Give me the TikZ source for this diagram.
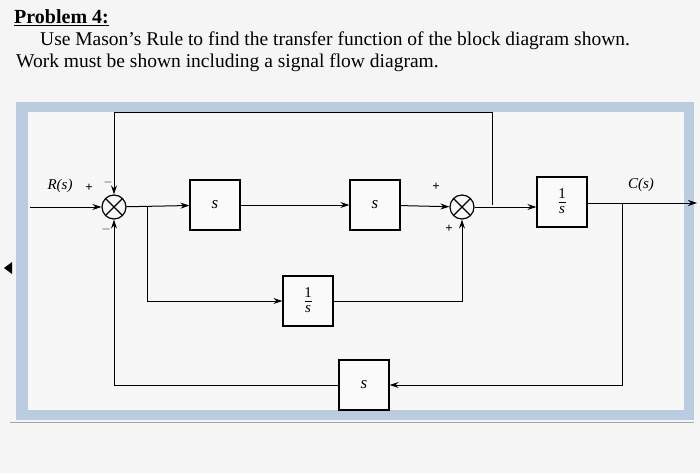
\documentclass[tikz,border=0pt]{standalone}
\usepackage{fontspec}
\setmainfont{Liberation Serif}
\usetikzlibrary{arrows.meta}
\definecolor{frm}{RGB}{188,204,224}
\begin{document}
\begin{tikzpicture}[x=1pt,y=-1pt,
  blk/.style={draw,line width=1.2pt,fill=white!96!gray,minimum width=50pt,minimum height=50pt,inner sep=0pt,font=\itshape\fontsize{17}{17}\selectfont},
  frc/.style={inner sep=0pt,font=\fontsize{15}{15}\selectfont},
  sumj/.style={draw,line width=1.2pt,circle,minimum size=24pt,inner sep=0pt,path picture={\draw[line width=1.1pt] (path picture bounding box.north west)--(path picture bounding box.south east) (path picture bounding box.north east)--(path picture bounding box.south west);}},
  sig/.style={line width=1pt,-{Stealth[length=9pt,width=6pt]}},
  lab/.style={font=\itshape\fontsize{15}{15}\selectfont},
  sg/.style={font=\fontsize{13}{13}\selectfont\bfseries,inner sep=0pt}]
\useasboundingbox (0,0) rectangle (700,473);
\fill[gray!8] (0,0) rectangle (700,473);
\node[anchor=base west,inner sep=0pt,font=\bfseries\fontsize{20}{20}\selectfont] (title) at (14,24) {\underline{Problem 4:}};
\node[anchor=base west,inner sep=0pt,font=\fontsize{19.5}{19.5}\selectfont] (l1) at (40,46) {Use Mason's Rule to find the transfer function of the block diagram shown.};
\node[anchor=base west,inner sep=0pt,font=\fontsize{19.5}{19.5}\selectfont] (l2) at (16,68) {Work must be shown including a signal flow diagram.};
\fill[black] (4,268) -- (12,262) -- (12,274) -- cycle;
\fill[frm] (16,102) rectangle (694,420);
\fill[gray!6] (28,112) rectangle (684,410);
\draw[gray!70,line width=1pt] (10,422) -- (694,422);
\node[sumj] (s1) at (114,207) {};
\node[sumj] (s2) at (462,207) {};
\node[blk] (b1) at (215,205) {s};
\node[blk] (b2) at (375,205) {s};
\node[blk] (b3) at (562,202) {};
\node[blk] (b4) at (308,301) {};
\node[blk] (b5) at (364,385) {s};
\foreach \b in {b3,b4}{
  \node[frc] at ([yshift=8]\b.center) {1};
  \draw[line width=0.7pt] ([xshift=-3.5]\b.center) -- ([xshift=3.5]\b.center);
  \node[frc,font=\itshape\fontsize{15}{15}\selectfont] at ([yshift=-8]\b.center) {s};
}
\coordinate (in) at (30,207);
\coordinate (out) at (697,203);
\coordinate (p1) at (147,207);
\coordinate (p2) at (492,205);
\coordinate (p3) at (622,203);
\draw[sig] (in) -- (s1);
\draw[sig] (s1) -- (b1);
\draw[sig] (b1) -- (b2);
\draw[sig] (b2) -- (s2);
\draw[sig] (s2) -- (b3.west|-s2);
\draw[sig] (b3.east|-out) -- (out);
\draw[sig] (p2) |- (114,113) -- (s1);
\draw[sig] (p1) |- (b4);
\draw[sig] (b4) -| (s2);
\draw[sig] (p3) |- (b5);
\draw[sig] (b5) -| (s1);
\node[lab] (R) at (60,186) {R(s)};
\node[lab] (C) at (641,185) {C(s)};
\node[sg] at (89,188) {+};
\node[sg] at (108,182) {$-$};
\node[sg] at (106,229) {$-$};
\node[sg] at (436,187) {+};
\node[sg] at (449,229) {+};
\end{tikzpicture}
\end{document}
